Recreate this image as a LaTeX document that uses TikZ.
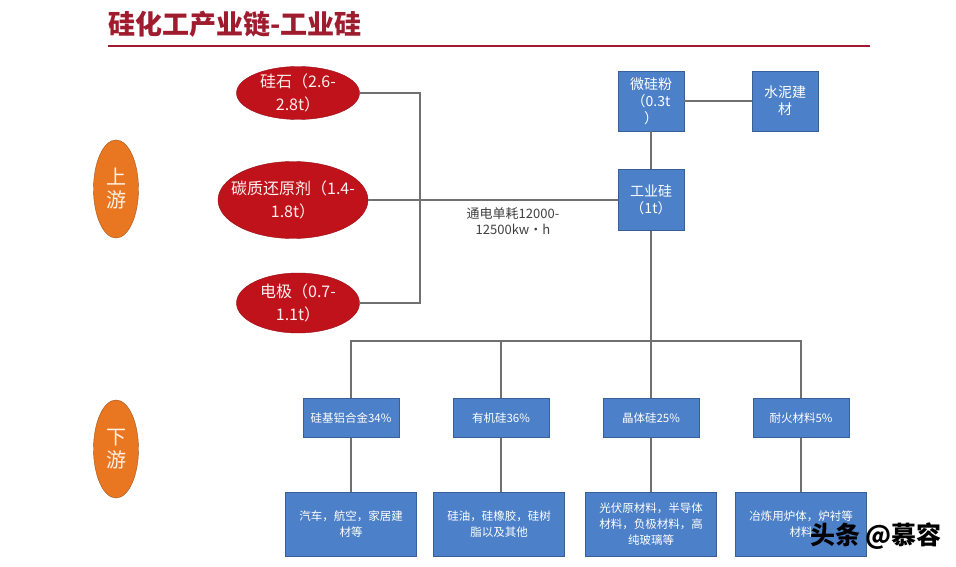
\documentclass[tikz,border=0pt]{standalone}
\usepackage{fontspec}
\setmainfont{Noto Sans CJK SC}
\usetikzlibrary{shapes.geometric}
\definecolor{titlered}{RGB}{158,28,46}
\definecolor{inputred}{RGB}{192,18,26}
\definecolor{streamorange}{RGB}{233,118,33}
\definecolor{boxblue}{RGB}{76,128,200}
\definecolor{linkgray}{RGB}{112,112,112}

\begin{document}
\begin{tikzpicture}[x=1pt,y=-1pt,
  stream/.style={ellipse,draw=streamorange!70!black,fill=streamorange,minimum width=45pt,minimum height=98pt,inner sep=0pt},
  streamtxt/.style={text=orange!10,font=\fontsize{20}{23}\selectfont,align=center},
  input/.style={ellipse,draw=inputred!80!black,fill=inputred,inner sep=0pt},
  inputtxt/.style={text=red!6,font=\fontsize{16}{23}\selectfont,align=center},
  unit/.style={draw=boxblue!75!black,fill=boxblue,text=white,align=center,inner sep=0pt,
    minimum width=66pt,minimum height=60pt,font=\fontsize{14}{17}\selectfont},
  use/.style={unit,minimum width=96pt,minimum height=39pt,font=\fontsize{11.5}{14}\selectfont},
  app/.style={unit,minimum width=131pt,minimum height=64pt,font=\fontsize{11.5}{16}\selectfont},
  link/.style={draw=linkgray,line width=1.1pt}]
  \useasboundingbox[fill=white] (0,0) rectangle (956,567);

  % title and rule
  \node[anchor=west,text=titlered,font=\fontsize{27}{27}\selectfont\bfseries] (title) at (105,24) {硅化工产业链-工业硅};
  \draw[titlered,line width=2pt] (108,46) -- (870,46);

  % upstream / downstream tags
  \node[stream] (up) at (116,189) {};
  \node[streamtxt] (up-t) at (up) {上\\游};
  \node[stream] (down) at (116,449) {};
  \node[streamtxt] (down-t) at (down) {下\\游};

  % raw inputs
  \node[input,minimum width=123pt,minimum height=53pt] (quartz) at (298,93) {};
  \node[inputtxt] (quartz-t) at (quartz) {硅石（2.6-\\2.8t）};
  \node[input,minimum width=150pt,minimum height=77pt] (carbon) at (293,200) {};
  \node[inputtxt] (carbon-t) at (carbon) {碳质还原剂（1.4-\\1.8t）};
  \node[input,minimum width=123pt,minimum height=60pt] (electrode) at (298,303) {};
  \node[inputtxt] (electrode-t) at (electrode) {电极（0.7-\\1.1t）};

  % silicon and by-products
  \node[unit] (fume) at (651,101) {微硅粉\\（0.3t\\）};
  \node[unit] (cement) at (785,101) {水泥建\\材};
  \node[unit,minimum height=61pt] (si) at (651,200) {工业硅\\（1t）};
  \node[text=black!75,font=\fontsize{13}{16}\selectfont,align=center] (power) at (513,221) {通电单耗12000-\\12500kw・h};

  % downstream uses
  \node[use] (alloy) at (351,418) {硅基铝合金34\%};
  \node[use] (organo) at (501,418) {有机硅36\%};
  \node[use] (crystal) at (651,418) {晶体硅25\%};
  \node[use] (refract) at (801,418) {耐火材料5\%};

  \node[app] (auto) at (351,524) {汽车，航空，家居建\\材等};
  \node[app] (oil) at (499,524) {硅油，硅橡胶，硅树\\脂以及其他};
  \node[app] (pv) at (651,524) {光伏原材料，半导体\\材料，负极材料，高\\纯玻璃等};
  \node[app] (furnace) at (801,524) {冶炼用炉体，炉衬等\\材料};

  \node[font=\fontsize{25}{25}\selectfont\bfseries] (mark) at (876,536) {头条 @慕容};

  % connectors
  \coordinate (merge) at (420,200);
  \coordinate (split) at (651,341);
  \draw[link] (quartz.east) -| (merge) |- (electrode.east);
  \draw[link] (carbon.east) -- (si.west);
  \draw[link] (fume.south) -- (si.north);
  \draw[link] (fume.east) -- (cement.west);
  \draw[link] (si.south) -- (split);
  \draw[link] (alloy.north) |- (refract.north |- split) -- (refract.north);
  \draw[link] (organo.north) -- (organo.north |- split);
  \draw[link] (crystal.north) -- (split);
  \draw[link] (alloy.south) -- (auto.north);
  \draw[link] (organo.south) -- (organo.south |- oil.north);
  \draw[link] (crystal.south) -- (pv.north);
  \draw[link] (refract.south) -- (furnace.north);
\end{tikzpicture}
\end{document}
